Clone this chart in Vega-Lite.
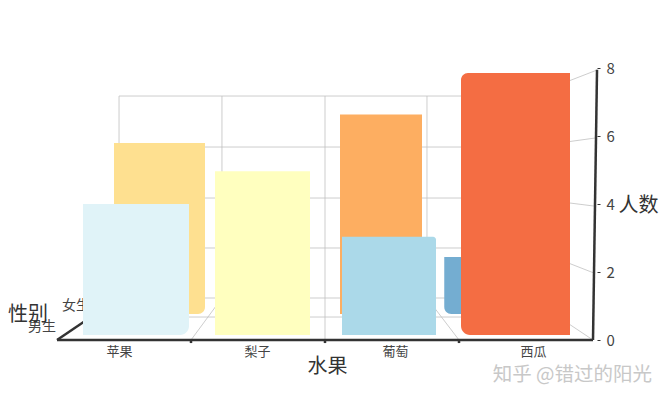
{
  "$schema": "https://vega.github.io/schema/vega-lite/v6.json",
  "width": 670,
  "height": 404,
  "padding": 0,
  "autosize": {"type": "none"},
  "background": "white",
  "config": {
    "view": {"stroke": null},
    "font": "Noto Sans CJK SC",
    "text": {"font": "Noto Sans CJK SC"}
  },
  "datasets": {
    "votes": [
      {"fruit": "苹果", "gender": "女生", "count": 6},
      {"fruit": "葡萄", "gender": "女生", "count": 7},
      {"fruit": "西瓜", "gender": "女生", "count": 2},
      {"fruit": "苹果", "gender": "男生", "count": 4},
      {"fruit": "梨子", "gender": "男生", "count": 5},
      {"fruit": "葡萄", "gender": "男生", "count": 3},
      {"fruit": "西瓜", "gender": "男生", "count": 8}
    ],
    "grid": [
      {"a": 0.463, "b": 7.176, "a2": 3.53, "b2": 7.176},
      {"a": 0.463, "b": 5.676, "a2": 3.53, "b2": 5.676},
      {"a": 0.463, "b": 4.176, "a2": 3.53, "b2": 4.176},
      {"a": 0.463, "b": 2.706, "a2": 3.53, "b2": 2.706},
      {"a": 0.463, "b": 1.235, "a2": 3.53, "b2": 1.235},
      {"a": 0.463, "b": 1.235, "a2": 0.463, "b2": 7.176},
      {"a": 1.231, "b": 1.235, "a2": 1.231, "b2": 7.176},
      {"a": 2.0, "b": 1.235, "a2": 2.0, "b2": 7.176},
      {"a": 2.761, "b": 1.235, "a2": 2.761, "b2": 7.176},
      {"a": 3.53, "b": 1.235, "a2": 3.53, "b2": 7.176},
      {"a": 3.53, "b": 7.176, "a2": 4.03, "b2": 7.94},
      {"a": 3.53, "b": 5.676, "a2": 4.015, "b2": 5.94},
      {"a": 3.53, "b": 4.176, "a2": 4.007, "b2": 3.94},
      {"a": 3.53, "b": 2.706, "a2": 4.007, "b2": 1.97},
      {"a": 3.53, "b": 1.235, "a2": 4.0, "b2": 0},
      {"a": 0.254, "b": 0.676, "a2": 3.746, "b2": 0.676},
      {"a": 1.231, "b": 1.235, "a2": 1.0, "b2": 0},
      {"a": 2.0, "b": 1.235, "a2": 2.0, "b2": 0},
      {"a": 2.761, "b": 1.235, "a2": 3.0, "b2": 0}
    ],
    "axes": [
      {"a": 0, "b": 0, "a2": 4.0, "b2": 0},
      {"a": 4.0, "b": 0, "a2": 4.03, "b2": 7.95},
      {"a": 0, "b": 0, "a2": 0.463, "b2": 1.235},
      {"a": 1, "b": 0, "a2": 1, "b2": -0.09},
      {"a": 2, "b": 0, "a2": 2, "b2": -0.09},
      {"a": 3, "b": 0, "a2": 3, "b2": -0.09}
    ]
  },
  "resolve": {
    "scale": {"x": "independent", "y": "independent", "color": "independent", "size": "independent"},
    "axis": {"x": "independent", "y": "independent"}
  },
  "layer": [
    {
      "data": {"name": "grid"},
      "mark": {"type": "rule", "color": "#c0c0c0", "strokeWidth": 0.8},
      "encoding": {
        "x": {"field": "a", "type": "quantitative", "axis": null, "scale": {"domain": [0, 4], "range": [57, 593], "nice": false, "zero": false}},
        "x2": {"field": "a2"},
        "y": {
          "field": "b",
          "type": "quantitative",
          "scale": {"domain": [0, 8], "range": [340, 68], "nice": false, "zero": false},
          "axis": {
            "orient": "right",
            "offset": -73,
            "values": [0, 2, 4, 6, 8],
            "grid": false,
            "domain": false,
            "tickSize": 3,
            "tickColor": "#333333",
            "labelColor": "#444444",
            "labelFontSize": 15,
            "labelPadding": 6,
            "title": "人数",
            "titleAngle": 0,
            "titleFontSize": 20,
            "titleFontWeight": "normal",
            "titleColor": "#333333",
            "titleX": 41,
            "titleY": 215
          }
        },
        "y2": {"field": "b2"}
      }
    },
    {
      "data": {"name": "axes"},
      "mark": {"type": "rule", "color": "#333333", "strokeWidth": 2.5},
      "encoding": {
        "x": {"field": "a", "type": "quantitative", "axis": null, "scale": {"domain": [0, 4], "range": [57, 593], "nice": false, "zero": false}},
        "x2": {"field": "a2"},
        "y": {"field": "b", "type": "quantitative", "axis": null, "scale": {"domain": [0, 8], "range": [340, 68], "nice": false, "zero": false}},
        "y2": {"field": "b2"}
      }
    },
    {
      "data": {"values": [{"fruit": "苹果"}, {"fruit": "梨子"}, {"fruit": "葡萄"}, {"fruit": "西瓜"}]},
      "mark": {"type": "bar", "opacity": 0},
      "encoding": {
        "x": {
          "field": "fruit",
          "type": "nominal",
          "sort": null,
          "scale": {"type": "point", "range": [119, 533], "padding": 0},
          "axis": {
            "orient": "bottom",
            "offset": -64,
            "labelAngle": 0,
            "labelFontSize": 13,
            "labelColor": "#444444",
            "labelPadding": 5,
            "domain": false,
            "ticks": false,
            "title": "水果",
            "titleFontSize": 20,
            "titleFontWeight": "normal",
            "titleColor": "#333333",
            "titleX": 327,
            "titleY": 16
          }
        }
      }
    },
    {
      "data": {"values": [{"gender": "男生"}, {"gender": "女生"}]},
      "mark": {"type": "text", "fontSize": 14, "color": "#444444"},
      "encoding": {
        "text": {"field": "gender"},
        "x": {"field": "gender", "type": "nominal", "axis": null, "scale": {"type": "point", "domain": ["男生", "女生"], "range": [42, 76], "padding": 0}},
        "y": {"field": "gender", "type": "nominal", "axis": null, "scale": {"type": "point", "domain": ["男生", "女生"], "range": [327, 306], "padding": 0}}
      }
    },
    {
      "data": {"values": [{"label": "性别"}]},
      "mark": {"type": "text", "fontSize": 20, "color": "#333333"},
      "encoding": {
        "text": {"field": "label"},
        "x": {"datum": -0.216, "type": "quantitative", "axis": null, "scale": {"domain": [0, 4], "range": [57, 593], "nice": false, "zero": false}},
        "y": {"datum": 0.735, "type": "quantitative", "axis": null, "scale": {"domain": [0, 8], "range": [340, 68], "nice": false, "zero": false}}
      }
    },
    {
      "data": {"name": "votes"},
      "transform": [{"filter": "datum.gender == '女生'"}],
      "mark": {
        "type": "bar",
        "cornerRadiusBottomRight": {"expr": "datum.fruit == '苹果' ? 7 : 0"},
        "cornerRadiusBottomLeft": {"expr": "datum.fruit == '西瓜' ? 7 : 0"}
      },
      "encoding": {
        "x": {"field": "fruit", "type": "nominal", "axis": null, "scale": {"type": "point", "domain": ["苹果", "梨子", "葡萄", "西瓜"], "range": [159.5, 491.75], "padding": 0}},
        "y": {"field": "count", "type": "quantitative", "axis": null, "scale": {"domain": [0, 8], "range": [314, 86], "nice": false}},
        "size": {"field": "fruit", "type": "nominal", "legend": null, "scale": {"type": "ordinal", "domain": ["苹果", "梨子", "葡萄", "西瓜"], "range": [91, 90, 82, 95]}},
        "color": {"field": "count", "type": "ordinal", "legend": null, "scale": {"domain": [2, 3, 4, 5, 6, 7, 8], "range": ["#74add1", "#abd9e9", "#e0f3f8", "#ffffbf", "#fee090", "#fdae61", "#f46d43"]}}
      }
    },
    {
      "data": {"name": "votes"},
      "transform": [{"filter": "datum.gender == '男生'"}],
      "mark": {
        "type": "bar",
        "cornerRadiusBottomRight": {"expr": "datum.fruit == '苹果' ? 9 : 0"},
        "cornerRadiusBottomLeft": {"expr": "datum.fruit == '西瓜' ? 9 : 0"},
        "cornerRadiusTopLeft": {"expr": "datum.fruit == '西瓜' ? 7 : 0"},
        "cornerRadiusTopRight": {"expr": "datum.fruit == '葡萄' ? 3 : 0"}
      },
      "encoding": {
        "x": {"field": "fruit", "type": "nominal", "axis": null, "scale": {"type": "point", "domain": ["苹果", "梨子", "葡萄", "西瓜"], "range": [136, 515.5], "padding": 0}},
        "y": {"field": "count", "type": "quantitative", "axis": null, "scale": {"domain": [0, 8], "range": [335, 73], "nice": false}},
        "size": {"field": "fruit", "type": "nominal", "legend": null, "scale": {"type": "ordinal", "domain": ["苹果", "梨子", "葡萄", "西瓜"], "range": [106, 95, 94, 109]}},
        "color": {"field": "count", "type": "ordinal", "legend": null, "scale": {"domain": [2, 3, 4, 5, 6, 7, 8], "range": ["#74add1", "#abd9e9", "#e0f3f8", "#ffffbf", "#fee090", "#fdae61", "#f46d43"]}}
      }
    },
    {
      "data": {"values": [{"label": "知乎 @错过的阳光"}]},
      "mark": {"type": "text", "fontSize": 19.5, "color": "#c8c8c8", "align": "right"},
      "encoding": {
        "text": {"field": "label"},
        "x": {"datum": 4.44, "type": "quantitative", "axis": null, "scale": {"domain": [0, 4], "range": [57, 593], "nice": false, "zero": false}},
        "y": {"datum": -1.03, "type": "quantitative", "axis": null, "scale": {"domain": [0, 8], "range": [340, 68], "nice": false, "zero": false}}
      }
    }
  ]
}
